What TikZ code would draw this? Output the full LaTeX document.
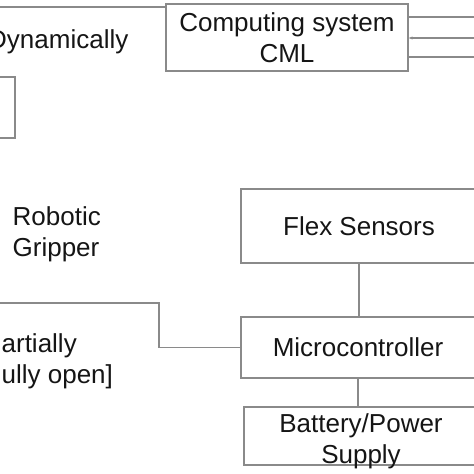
\documentclass[tikz,border=0pt]{standalone}
\usepackage{fontspec}
\setmainfont{Liberation Sans}
\usetikzlibrary{arrows.meta,positioning}
\begin{document}
\begin{tikzpicture}[x=1pt,y=-1pt,>=Stealth,font=\fontsize{26}{31}\selectfont,line width=1.3pt]
\definecolor{edge}{HTML}{8A8A8A}
\definecolor{ink}{HTML}{151515}
\tikzstyle{b}=[draw=edge,text=ink,align=center,inner sep=0pt]
\tikzstyle{t}=[text=ink,inner sep=0pt]
\tikzstyle{w}=[draw=edge]
\useasboundingbox (0,0) rectangle (474,474);
\clip (0,0) rectangle (474,474);
% blocks
\node[b,minimum width=242pt,minimum height=67pt] (comp) at (287,37.5) {Computing system\\CML};
\node[b,minimum width=90pt,minimum height=61pt] (grip) at (-30,107.5) {};
\node[b,minimum width=236pt,minimum height=74pt] (flex) at (359,226) {Flex Sensors};
\node[b,minimum width=234pt,minimum height=61pt] (mcu) at (358,347.5) {Microcontroller};
\node[b,minimum width=234pt,minimum height=58pt] (batt) at (361,436) {};
\node[t,align=center] (batttxt) at (361,441) {Battery/Power\\Supply};
% loose labels
\node[t,anchor=base east] (dyn) at (129,48) {Dynamically};
\node[t,anchor=north west,align=left] (robot) at (12,206) {Robotic\\Gripper};
\node[t,anchor=north west,align=left] (open) at (1,333) {artially\\ully open]};
% connectors
\coordinate (tl) at (-5,7);
\draw[w] (tl) -- (tl -| comp.west);
\foreach \y/\n in {17/r1,38/r2,57/r3} \coordinate (\n) at (480,\y);
\draw[w] (r1) -- (r1 -| comp.east); \draw[w,-{Stealth[length=4pt,width=3pt]}] (r2) -- (r2 -| comp.east); \draw[w] (r3) -- (r3 -| comp.east);
\draw[w] (flex.south) -- (flex.south |- mcu.north);
\draw[w] (mcu.south) -- (mcu.south |- batt.north);
\coordinate (ol) at (-5,303); \coordinate (ob) at (159,303);
\draw[w] (ol) -- (ob) |- (mcu.west);
\end{tikzpicture}
\end{document}
